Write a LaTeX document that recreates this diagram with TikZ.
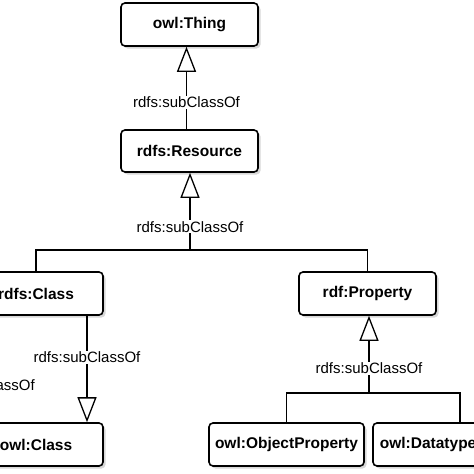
\documentclass[tikz,border=0pt]{standalone}
\usepackage{fontspec}
\setmainfont{Liberation Sans}
\usetikzlibrary{arrows.meta,shadows}
\begin{document}
\begin{tikzpicture}[x=1pt,y=-1pt,
 cls/.style={draw, line width=1.6pt, rounded corners=4pt, fill=white,
   font=\fontsize{15.5}{18}\selectfont\bfseries, inner sep=0pt, minimum height=43pt,
   drop shadow={shadow xshift=2.5pt,shadow yshift=-2.5pt,fill=black!30}},
 conn/.style={line width=1.3pt},
 inh/.style={conn, -{Triangle[open,length=25pt,width=19pt,line width=1.3pt]}},
 lbl/.style={fill=white, inner sep=1pt, font=\fontsize{15}{18}\selectfont}]
\useasboundingbox (0,0) rectangle (474,474);
\clip (0,0) rectangle (474,474);
\fill[white] (0,0) rectangle (474,474);
\node[cls, minimum width=137pt] (thing) at (189.5,24.5) {owl:Thing};
\node[cls, minimum width=137pt, minimum height=42pt] (resource) at (189.5,151) {rdfs:Resource};
\node[cls, minimum width=134pt] (class) at (36,293.5) {rdfs:Class};
\node[cls, minimum width=137pt] (property) at (367.5,293.5) {rdf:Property};
\node[cls, minimum width=134pt] (owlclass) at (36,444.5) {owl:Class};
\node[cls, minimum width=155pt] (objprop) at (286.5,444.5) {owl:ObjectProperty};
\node[cls, minimum width=174pt] (datatype) at (460,444.5) {owl:DatatypeProperty};
% resource -> thing
\draw[inh] ([xshift=-3pt]resource.north) -- ([xshift=-3pt]thing.south)
  node[lbl, pos=0.33] (l1) {rdfs:subClassOf};
% class, property -> resource
\coordinate (j1) at (190,250);
\draw[conn] (class.north) |- (j1) -| (property.north);
\draw[inh] (j1) -- (j1 |- resource.south) node[lbl, pos=0.3] (l2) {rdfs:subClassOf};
% objprop, datatype -> property
\coordinate (j2) at (369,393);
\draw[conn] (objprop.north) |- (j2) -| (datatype.north);
\draw[inh] (j2) -- (j2 |- property.south) node[lbl, pos=0.32] (l3) {rdfs:subClassOf};
% class -> owl:Class
\draw[inh] ([xshift=51pt]class.south) -- ([xshift=51pt]owlclass.north)
  node[lbl, pos=0.39] (l4) {rdfs:subClassOf};
% cropped label at left
\node[lbl, anchor=east] (l5) at (36,385) {rdfs:subClassOf};
\end{tikzpicture}
\end{document}
